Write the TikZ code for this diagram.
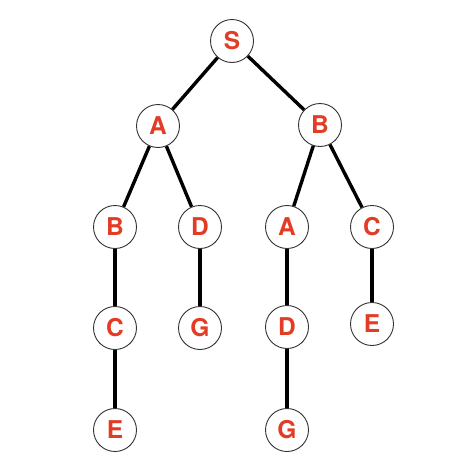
\documentclass[tikz,border=0pt]{standalone}
\usepackage{fontspec}
\setmainfont{TeX Gyre Heros}
\begin{document}
\begin{tikzpicture}[x=1pt,y=-1pt,
  tn/.style={circle,draw=black!80,line width=0.9pt,fill=white,minimum size=43pt,inner sep=0pt,
    text=letter,font=\fontsize{24.5}{24.5}\selectfont\bfseries},
  edge/.style={line width=3.4pt,black}]
\definecolor{letter}{HTML}{E33B24}
\useasboundingbox (0,0) rectangle (474,474);
\node[tn] (S) at (232,41) {S};
\node[tn] (A1) at (158,126) {A};
\node[tn] (B1) at (320,125) {B};
\node[tn] (B2) at (115,227) {B};
\node[tn] (D1) at (200,227) {D};
\node[tn] (A2) at (287,227) {A};
\node[tn] (C1) at (372,227) {C};
\node[tn] (C2) at (115,328) {C};
\node[tn] (G1) at (200,328) {G};
\node[tn] (D2) at (287,327) {D};
\node[tn] (E1) at (372,324) {E};
\node[tn] (E2) at (115,430) {E};
\node[tn] (G2) at (287,430) {G};
\draw[edge] (S) -- (A1);
\draw[edge] (S) -- (B1);
\draw[edge] (A1) -- (B2);
\draw[edge] (A1) -- (D1);
\draw[edge] (B1) -- (A2);
\draw[edge] (B1) -- (C1);
\draw[edge] (B2) -- (C2);
\draw[edge] (D1) -- (G1);
\draw[edge] (A2) -- (D2);
\draw[edge] (C1) -- (E1);
\draw[edge] (C2) -- (E2);
\draw[edge] (D2) -- (G2);
\end{tikzpicture}
\end{document}
